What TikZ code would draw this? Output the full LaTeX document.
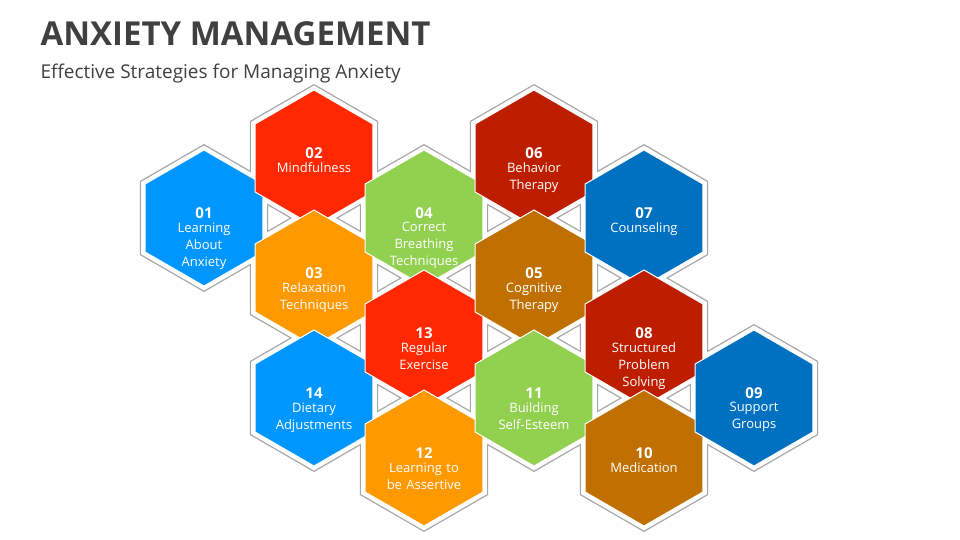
\documentclass[tikz,border=0pt]{standalone}
\usepackage{fontspec}
\setmainfont{Open Sans}
\usetikzlibrary{shapes.geometric}
\definecolor{cblueL}{RGB}{0,150,255}
\definecolor{cblueD}{RGB}{0,112,192}
\definecolor{cred}{RGB}{255,40,0}
\definecolor{credD}{RGB}{190,30,0}
\definecolor{corange}{RGB}{255,153,0}
\definecolor{cgreen}{RGB}{146,208,80}
\definecolor{cbrown}{RGB}{192,112,0}
\definecolor{ctitle}{RGB}{64,64,64}
\tikzset{
  hexg/.style={regular polygon,regular polygon sides=6,shape border rotate=30,minimum size=148pt,inner sep=0pt,fill=gray!70},
  hexw/.style={regular polygon,regular polygon sides=6,shape border rotate=30,minimum size=145pt,inner sep=0pt,fill=white},
  hexc/.style={regular polygon,regular polygon sides=6,shape border rotate=30,minimum size=136pt,inner sep=0pt,fill=#1,draw=white,line width=1pt},
  lbl/.style={text=white,align=center,font=\fontsize{13}{17}\selectfont,text width=90pt},
}
\newcommand{\hexlist}{
  01/204/218/cblueL/Learning\\About\\Anxiety,
  02/314/158/cred/Mindfulness,
  03/314/278/corange/Relaxation\\Techniques,
  14/314/398/cblueL/Dietary\\Adjustments,
  04/424/218/cgreen/Correct\\Breathing\\Techniques,
  13/424/338/cred/Regular\\Exercise,
  12/424/458/corange/Learning to\\be Assertive,
  06/534/158/credD/Behavior\\Therapy,
  05/534/278/cbrown/Cognitive\\Therapy,
  11/534/398/cgreen/Building\\Self-Esteem,
  07/644/218/cblueD/Counseling,
  08/644/338/credD/Structured\\Problem\\Solving,
  10/644/458/cbrown/Medication,
  09/754/398/cblueD/Support\\Groups}
\begin{document}
\begin{tikzpicture}[x=1pt,y=-1pt]
\useasboundingbox (0,0) rectangle (960,540);
\node[anchor=west,text=ctitle,font=\fontsize{33}{36}\bfseries\selectfont] (title) at (37,34) {ANXIETY MANAGEMENT};
\node[anchor=west,text=ctitle,font=\fontsize{19}{22}\selectfont] (sub) at (37,74) {Effective Strategies for Managing Anxiety};
\foreach \n/\x/\y/\c/\t in \hexlist { \node[hexg] (g\n) at (\x,\y) {}; }
\foreach \n/\x/\y/\c/\t in \hexlist { \node[hexw] (w\n) at (\x,\y) {}; }
\foreach \n/\x/\y/\c/\t in \hexlist {
  \node[hexc=\c] (h\n) at (\x,\y) {};
  \node[lbl,anchor=north] (t\n) at ([yshift=-1pt]h\n.center) {\t};
  \node[text=white,font=\fontsize{15}{18}\bfseries\selectfont,anchor=south] (n\n) at ([yshift=-3pt]t\n.north) {\n};
}
\end{tikzpicture}
\end{document}
